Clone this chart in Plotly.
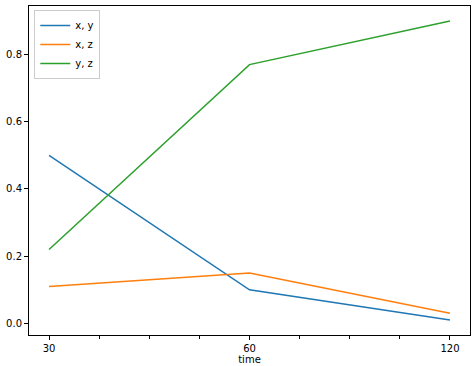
import math
import plotly.graph_objects as go

time = [30, 60, 120]
series_names = ["x, y", "x, z", "y, z"]
xy = [0.50, 0.10, 0.01]
xz = [0.11, 0.15, 0.03]
yz = [0.22, 0.77, 0.90]
colors = ["#1f77b4", "#ff7f0e", "#2ca02c"]
y_ticks = [0.0, 0.2, 0.4, 0.6, 0.8]

fig = go.Figure()
for name, vals, c in zip(series_names, [xy, xz, yz], colors):
    fig.add_trace(go.Scatter(x=time, y=vals, mode="lines", name=name,
                             line=dict(color=c, width=1.5)))

lo, hi = math.log10(min(time)), math.log10(max(time))
pad = (hi - lo) * 0.05
minor_vals = []
for a, b in zip(time[:-1], time[1:]):
    for k in (1, 2, 3):
        minor_vals.append(a * (b / a) ** (k / 4))

ymin = min(xy + xz + yz); ymax = max(xy + xz + yz)
ypad = (ymax - ymin) * 0.05

font = dict(family="DejaVu Sans", size=10, color="black")
fig.update_layout(
    width=474, height=366,
    margin=dict(l=29, r=4, t=6, b=31, autoexpand=False),
    plot_bgcolor="white", paper_bgcolor="white",
    font=font,
    showlegend=True,
    legend=dict(x=0.012, y=0.988, xanchor="left", yanchor="top",
                bgcolor="rgba(255,255,255,0.8)", bordercolor="#cccccc", borderwidth=1,
                font=dict(family="DejaVu Sans", size=10), tracegroupgap=0,
                itemwidth=30),
    xaxis=dict(type="log", range=[lo - pad, hi + pad], automargin=False,
               tickvals=time, ticktext=[str(t) for t in time],
               ticks="outside", ticklen=4, tickcolor="black",
               showline=True, mirror=True, linecolor="black", linewidth=1,
               showgrid=False, zeroline=False,
               minor=dict(tickvals=minor_vals, ticks="outside", ticklen=2.5, tickcolor="black", showgrid=False),
               title=dict(text="time", font=font, standoff=2)),
    yaxis=dict(range=[ymin - ypad, ymax + ypad], tickvals=y_ticks, automargin=False,
               tickformat=".1f", ticks="outside", ticklen=4, tickcolor="black",
               showline=True, mirror=True, linecolor="black", linewidth=1,
               showgrid=False, zeroline=False),
)
fig.write_html("out.html", config={"displayModeBar": False},
               post_script="document.body.style.margin='0';")
